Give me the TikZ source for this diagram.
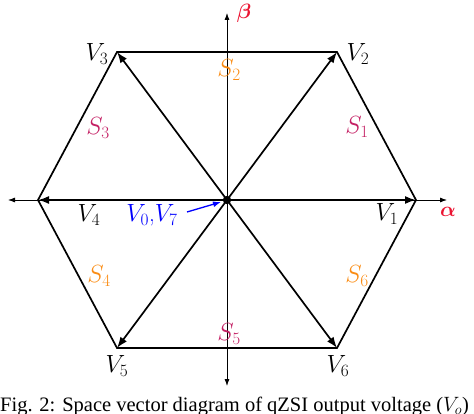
\documentclass[tikz,border=0pt]{standalone}
\usepackage{bm}
\usepackage{fontspec}
\newfontfamily\capfont{Liberation Serif}
\usetikzlibrary{arrows.meta}
\definecolor{smag}{RGB}{196,32,100}
\definecolor{sorg}{RGB}{250,140,20}
\definecolor{axred}{RGB}{235,20,50}
\begin{document}
\begin{tikzpicture}[x=1pt,y=-1pt,
  lbl/.style={inner sep=0pt,font=\fontsize{23}{26}\selectfont},
  axlbl/.style={inner sep=0pt,text=axred,font=\fontsize{20}{24}\selectfont},
  vec/.style={line width=1.7pt,-{Latex[length=11pt,width=8pt]}},
  hexedge/.style={line width=1.7pt,line join=miter},
  axis/.style={line width=0.8pt,-{Latex[length=7pt,width=5pt]}}]
\useasboundingbox (0,0) rectangle (474,414);
\coordinate (O) at (227,200);
\coordinate (P1) at (416,200);
\coordinate (P2) at (337,52);
\coordinate (P3) at (117,52);
\coordinate (P4) at (38,200);
\coordinate (P5) at (117,348);
\coordinate (P6) at (337,348);
\coordinate (AxL) at (8,200);
\coordinate (AxR) at (447,200);
\coordinate (AxT) at (227,13);
\coordinate (AxB) at (227,386);
% axes
\draw[axis] (O) -- (AxR);
\draw[axis] (O) -- (AxL);
\draw[axis] (O) -- (AxT);
\draw[axis] (O) -- (AxB);
% hexagon
\draw[hexedge] (P1) -- (P2) -- (P3) -- (P4) -- (P5) -- (P6) -- cycle;
% vectors
\foreach \i in {1,...,6} \draw[vec] (O) -- (P\i);
\fill (O) circle (4.2pt);
% labels
\node[lbl] (v1) at (387,214) {$V_1$};
\node[lbl] (v2) at (358,54) {$V_2$};
\node[lbl] (v3) at (97,54) {$V_3$};
\node[lbl] (v4) at (89,215) {$V_4$};
\node[lbl] (v5) at (117,366) {$V_5$};
\node[lbl] (v6) at (338,366) {$V_6$};
\node[lbl,text=blue] (v07) at (152,215) {$V_0$,$V_7$};
\coordinate (v07s) at (187,212);
\coordinate (v07tip) at (221,202);
\draw[blue,line width=1.3pt,-{Latex[length=8pt,width=6pt]}] (v07s) -- (v07tip);
\node[axlbl] (al) at (448,212) {$\bm{\alpha}$};
\node[axlbl] (be) at (244,13) {$\bm{\beta}$};
\node[lbl,text=smag] (s1) at (357,127) {$S_1$};
\node[lbl,text=sorg] (s2) at (229,70) {$S_2$};
\node[lbl,text=smag] (s3) at (98,128) {$S_3$};
\node[lbl,text=sorg] (s4) at (99,276) {$S_4$};
\node[lbl,text=smag] (s5) at (229,334) {$S_5$};
\node[lbl,text=sorg] (s6) at (357,276) {$S_6$};
\node[inner sep=0pt,anchor=base west,font=\capfont\fontsize{20.5}{24}\selectfont] (cap) at (0,411.5) {Fig. 2: Space vector diagram of qZSI output voltage ($V_o$)};
\end{tikzpicture}
\end{document}
